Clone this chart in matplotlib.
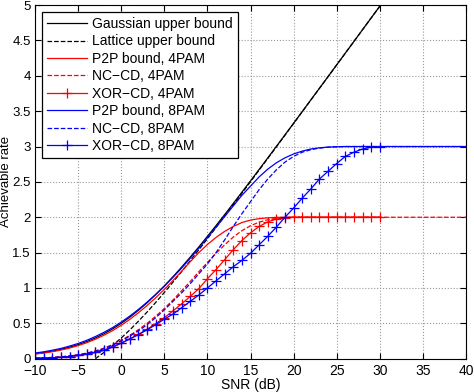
import numpy as np
import matplotlib
matplotlib.use("Agg")
from matplotlib import pyplot as plt

plt.rcParams['font.family'] = ['Liberation Sans Narrow', 'Liberation Sans', 'DejaVu Sans']

# SNR grid (dB), 1 dB steps
snr = list(range(-10, 31))          # -10 .. 30
snr_ext = snr + [40]                # curves that run on to 40 dB
snr_lat = list(range(-3, 31))       # lattice bound starts where it crosses 0

gauss = [0.069, 0.086, 0.106, 0.131, 0.162, 0.198, 0.242, 0.293, 0.353, 0.422,
         0.500, 0.588, 0.685, 0.791, 0.906, 1.029, 1.158, 1.294, 1.435, 1.580,
         1.730, 1.882, 2.037, 2.195, 2.354, 2.514, 2.676, 2.838, 3.001, 3.165,
         3.329, 3.494, 3.659, 3.824, 3.989, 4.155, 4.320, 4.486, 4.652, 4.818,
         4.984]

lattice = [0.0, 0.089, 0.186, 0.293, 0.407, 0.530, 0.660, 0.795, 0.936, 1.082,
           1.231, 1.384, 1.539, 1.696, 1.855, 2.016, 2.177, 2.339, 2.503, 2.667,
           2.831, 2.996, 3.160, 3.326, 3.491, 3.657, 3.822, 3.988, 4.154, 4.320,
           4.486, 4.652, 4.818, 4.983]

p2p_4 = [0.065, 0.080, 0.098, 0.122, 0.150, 0.185, 0.226, 0.275, 0.332, 0.398,
         0.473, 0.557, 0.650, 0.752, 0.862, 0.980, 1.105, 1.235, 1.370, 1.500,
         1.615, 1.715, 1.800, 1.870, 1.925, 1.960, 1.980, 1.992, 1.998, 2.0,
         2.0, 2.0, 2.0, 2.0, 2.0, 2.0, 2.0, 2.0, 2.0, 2.0,
         2.0]

nc_4 = [0.008, 0.012, 0.018, 0.027, 0.040, 0.056, 0.080, 0.110, 0.150, 0.200,
        0.260, 0.330, 0.410, 0.500, 0.600, 0.710, 0.830, 0.960, 1.090, 1.230,
        1.360, 1.490, 1.610, 1.720, 1.810, 1.880, 1.930, 1.965, 1.985, 1.995,
        2.0, 2.0, 2.0, 2.0, 2.0, 2.0, 2.0, 2.0, 2.0, 2.0,
        2.0, 2.0]

xor_4 = [0.005, 0.008, 0.012, 0.020, 0.030, 0.045, 0.065, 0.090, 0.120, 0.165,
         0.220, 0.280, 0.345, 0.415, 0.495, 0.580, 0.675, 0.775, 0.880, 0.990,
         1.130, 1.260, 1.400, 1.540, 1.670, 1.780, 1.870, 1.935, 1.975, 1.995,
         2.0, 2.0, 2.0, 2.0, 2.0, 2.0, 2.0, 2.0, 2.0, 2.0,
         2.0]

p2p_8 = [0.080, 0.097, 0.120, 0.145, 0.178, 0.215, 0.260, 0.313, 0.373, 0.440,
         0.518, 0.603, 0.697, 0.800, 0.910, 1.025, 1.150, 1.280, 1.420, 1.560,
         1.710, 1.860, 2.010, 2.160, 2.310, 2.440, 2.570, 2.680, 2.770, 2.840,
         2.895, 2.935, 2.965, 2.982, 2.992, 2.997, 3.0, 3.0, 3.0, 3.0,
         3.0, 3.0]

nc_8 = [0.007, 0.011, 0.017, 0.025, 0.037, 0.053, 0.075, 0.104, 0.142, 0.190,
        0.250, 0.320, 0.395, 0.480, 0.580, 0.690, 0.810, 0.930, 1.060, 1.200,
        1.340, 1.500, 1.680, 1.870, 2.050, 2.220, 2.390, 2.540, 2.670, 2.780,
        2.860, 2.920, 2.955, 2.978, 2.990, 2.996, 3.0, 3.0, 3.0, 3.0,
        3.0, 3.0]

xor_8 = [0.005, 0.008, 0.012, 0.020, 0.030, 0.045, 0.065, 0.090, 0.120, 0.165,
         0.220, 0.280, 0.340, 0.410, 0.480, 0.560, 0.630, 0.720, 0.810, 0.900,
         1.000, 1.100, 1.200, 1.300, 1.390, 1.490, 1.610, 1.730, 1.860, 2.000,
         2.130, 2.270, 2.400, 2.540, 2.650, 2.760, 2.860, 2.920, 2.965, 2.990,
         3.0]

fig = plt.figure(figsize=(4.74, 3.92), dpi=100)
ax = fig.add_axes([0.074, 0.085, 0.909, 0.902])

lw = 0.9
ax.plot(snr, gauss, '-', color='k', lw=lw, label='Gaussian upper bound')
ax.plot(snr_lat, lattice, '--', color='k', lw=lw, label='Lattice upper bound')
ax.plot(snr, p2p_4, '-', color='r', lw=lw, label='P2P bound, 4PAM')
ax.plot(snr_ext, nc_4, '--', color='r', lw=lw, label='NC\u2212CD, 4PAM')
ax.plot(snr, xor_4, '-', color='r', lw=lw, marker='+', ms=6.5, mew=0.9,
        label='XOR\u2212CD, 4PAM')
ax.plot(snr_ext, p2p_8, '-', color='b', lw=lw, label='P2P bound, 8PAM')
ax.plot(snr_ext, nc_8, '--', color='b', lw=lw, label='NC\u2212CD, 8PAM')
ax.plot(snr, xor_8, '-', color='b', lw=lw, marker='+', ms=6.5, mew=0.9,
        label='XOR\u2212CD, 8PAM')

ax.set_xlim(-10, 40)
ax.set_ylim(0, 5)
ax.set_xticks(range(-10, 41, 5))
ax.set_yticks([0, 0.5, 1, 1.5, 2, 2.5, 3, 3.5, 4, 4.5, 5])
ax.set_yticklabels(['0', '0.5', '1', '1.5', '2', '2.5', '3', '3.5', '4', '4.5', '5'])
ax.set_xticklabels(['\u221210', '\u22125', '0', '5', '10', '15', '20', '25', '30', '35', '40'])
ax.tick_params(direction='in', top=True, right=True, labelsize=10, length=4)
ax.tick_params(axis='x', pad=3.5)
ax.tick_params(axis='y', pad=3, labelsize=9.5)
ax.grid(True, linestyle=':', color='#999999', lw=0.8)
ax.set_xlabel('SNR (dB)', fontsize=10, labelpad=0)
ax.set_ylabel('Achievable rate', fontsize=9.5)
ax.yaxis.set_label_coords(-0.054, 0.5)

leg = ax.legend(loc='upper left', fontsize=10, handlelength=2.9, labelspacing=0.25,
                borderaxespad=0.5, fancybox=False, framealpha=1, borderpad=0.35,
                handletextpad=0.35)
leg.get_frame().set_edgecolor('k')
leg.get_frame().set_linewidth(0.9)

fig.savefig('out.png', dpi=100)
